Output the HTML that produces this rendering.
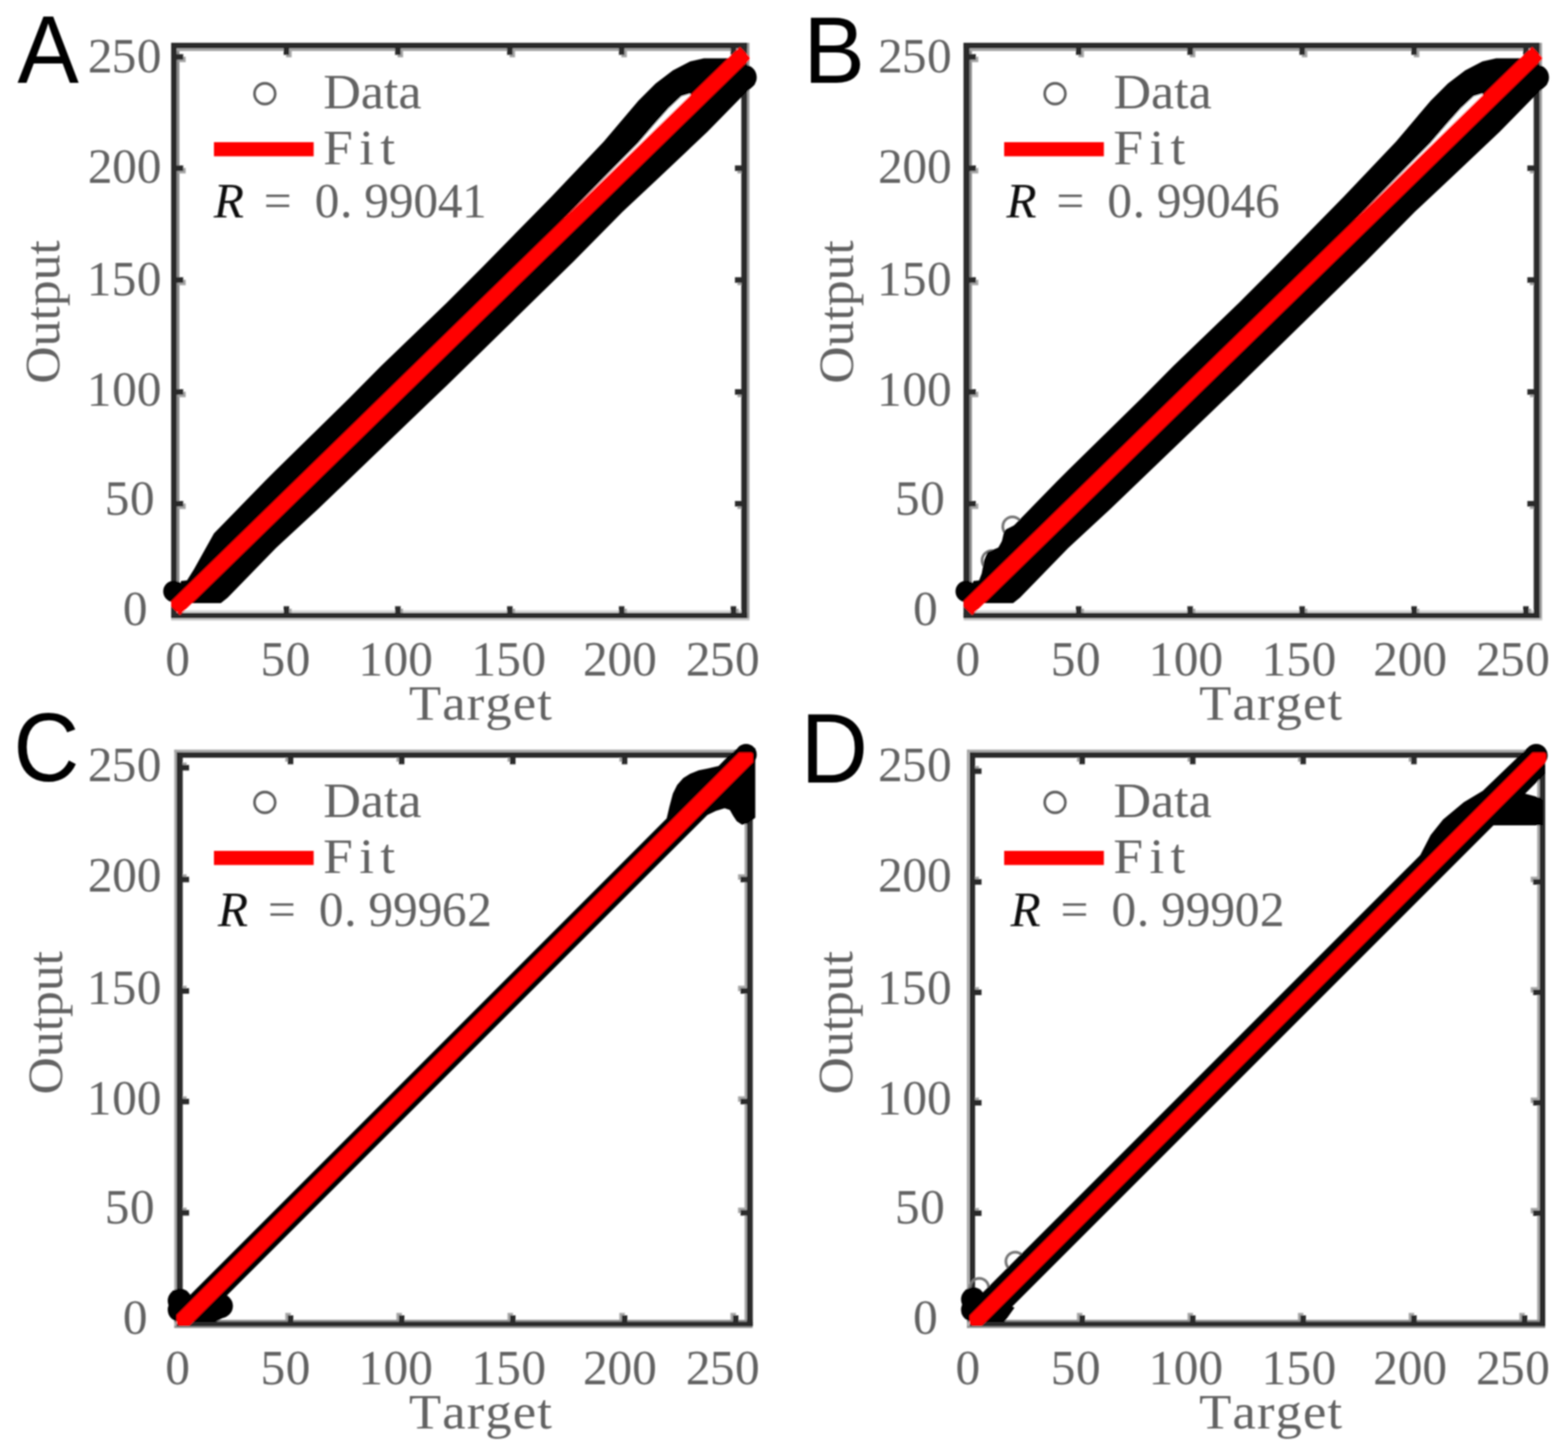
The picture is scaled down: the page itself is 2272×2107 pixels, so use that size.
<!DOCTYPE html>
<html lang="en">
<head>
<meta charset="utf-8">
<title>Regression plots: Output vs Target</title>
<style>
html, body { margin: 0; padding: 0; background: #ffffff; }
body { width: 2272px; height: 2107px; overflow: hidden; }
svg { display: block; }
text { white-space: pre; }
.s { font-family: "Liberation Serif", serif; font-size: 71.5px; fill: #626262; font-kerning: none; }
.i { font-style: italic; fill: #111; }
.p { font-family: "Liberation Sans", sans-serif; font-size: 140px; fill: #000; }
</style>
</head>
<body>
<svg width="2272" height="2107" viewBox="0 0 2272 2107">
<defs><filter id="soft" x="0" y="0" width="2272" height="2107" filterUnits="userSpaceOnUse"><feGaussianBlur stdDeviation="1.3"/></filter></defs>
<rect width="2272" height="2107" fill="#ffffff"/>
<g filter="url(#soft)">
<g id="panel-A">
<rect x="256" y="62" width="4" height="834" fill="#8c8c8c"/>
<rect x="248" y="70" width="834" height="4" fill="#a4a4a4"/>
<rect x="1082.4" y="62" width="3.6" height="837" fill="#9c9c9c"/>
<rect x="248" y="884.5" width="834" height="3.5" fill="#d4d4d4"/>
<rect x="248" y="895.8" width="838" height="3.4" fill="#c8c8c8"/>
<rect x="248" y="62" width="8" height="833.8" fill="#2b2b2b"/>
<rect x="1074.4" y="62" width="8.0" height="833.8" fill="#2b2b2b"/>
<rect x="248" y="62" width="834.4000000000001" height="8" fill="#2b2b2b"/>
<rect x="248" y="888" width="834.4000000000001" height="7.7999999999999545" fill="#2b2b2b"/>
<rect x="414.60" y="882.10" width="8.00" height="10.50" fill="#a6a6a6"/>
<rect x="414.60" y="72.60" width="8.00" height="10.50" fill="#a6a6a6"/>
<rect x="576.10" y="882.10" width="8.00" height="10.50" fill="#a6a6a6"/>
<rect x="576.10" y="72.60" width="8.00" height="10.50" fill="#a6a6a6"/>
<rect x="738.35" y="882.10" width="8.00" height="10.50" fill="#a6a6a6"/>
<rect x="738.35" y="72.60" width="8.00" height="10.50" fill="#a6a6a6"/>
<rect x="900.35" y="882.10" width="8.00" height="10.50" fill="#a6a6a6"/>
<rect x="900.35" y="72.60" width="8.00" height="10.50" fill="#a6a6a6"/>
<rect x="1062.35" y="882.10" width="8.00" height="10.50" fill="#a6a6a6"/>
<rect x="1062.35" y="72.60" width="8.00" height="10.50" fill="#a6a6a6"/>
<rect x="258.60" y="729.60" width="10.50" height="8.00" fill="#a6a6a6"/>
<rect x="1068.50" y="729.60" width="10.50" height="8.00" fill="#a6a6a6"/>
<rect x="258.60" y="567.60" width="10.50" height="8.00" fill="#a6a6a6"/>
<rect x="1068.50" y="567.60" width="10.50" height="8.00" fill="#a6a6a6"/>
<rect x="258.60" y="405.35" width="10.50" height="8.00" fill="#a6a6a6"/>
<rect x="1068.50" y="405.35" width="10.50" height="8.00" fill="#a6a6a6"/>
<rect x="258.60" y="243.35" width="10.50" height="8.00" fill="#a6a6a6"/>
<rect x="1068.50" y="243.35" width="10.50" height="8.00" fill="#a6a6a6"/>
<rect x="258.60" y="82.10" width="10.50" height="8.00" fill="#a6a6a6"/>
<rect x="1068.50" y="82.10" width="10.50" height="8.00" fill="#a6a6a6"/>
<rect x="411.00" y="878.50" width="8.00" height="10.50" fill="#2b2b2b"/>
<rect x="411.00" y="69.00" width="8.00" height="10.50" fill="#2b2b2b"/>
<rect x="572.50" y="878.50" width="8.00" height="10.50" fill="#2b2b2b"/>
<rect x="572.50" y="69.00" width="8.00" height="10.50" fill="#2b2b2b"/>
<rect x="734.75" y="878.50" width="8.00" height="10.50" fill="#2b2b2b"/>
<rect x="734.75" y="69.00" width="8.00" height="10.50" fill="#2b2b2b"/>
<rect x="896.75" y="878.50" width="8.00" height="10.50" fill="#2b2b2b"/>
<rect x="896.75" y="69.00" width="8.00" height="10.50" fill="#2b2b2b"/>
<rect x="1058.75" y="878.50" width="8.00" height="10.50" fill="#2b2b2b"/>
<rect x="1058.75" y="69.00" width="8.00" height="10.50" fill="#2b2b2b"/>
<rect x="255.00" y="726.00" width="10.50" height="8.00" fill="#2b2b2b"/>
<rect x="1064.90" y="726.00" width="10.50" height="8.00" fill="#2b2b2b"/>
<rect x="255.00" y="564.00" width="10.50" height="8.00" fill="#2b2b2b"/>
<rect x="1064.90" y="564.00" width="10.50" height="8.00" fill="#2b2b2b"/>
<rect x="255.00" y="401.75" width="10.50" height="8.00" fill="#2b2b2b"/>
<rect x="1064.90" y="401.75" width="10.50" height="8.00" fill="#2b2b2b"/>
<rect x="255.00" y="239.75" width="10.50" height="8.00" fill="#2b2b2b"/>
<rect x="1064.90" y="239.75" width="10.50" height="8.00" fill="#2b2b2b"/>
<rect x="255.00" y="78.50" width="10.50" height="8.00" fill="#2b2b2b"/>
<rect x="1064.90" y="78.50" width="10.50" height="8.00" fill="#2b2b2b"/>
<rect x="248" y="62" width="8" height="833.8" fill="#2b2b2b"/>
<rect x="1074.4" y="62" width="8.0" height="833.8" fill="#2b2b2b"/>
<rect x="248" y="62" width="834.4000000000001" height="8" fill="#2b2b2b"/>
<rect x="248" y="888" width="834.4000000000001" height="7.7999999999999545" fill="#2b2b2b"/>
<g class="pts"><polygon fill="#000" points="262.0,842.0 271.0,841.0 281.0,825.0 310.0,773.0 384.0,697.0 400.0,681.0 506.0,577.0 552.0,530.5 646.0,440.0 700.0,386.0 800.0,284.0 875.0,205.0 925.0,146.0 950.0,121.0 975.0,102.0 1000.0,89.0 1020.0,84.5 1062.0,84.5 1094.0,122.0 1072.5,142.5 1025.0,191.0 950.0,262.0 902.0,307.0 831.0,379.0 646.0,560.0 625.0,580.0 461.0,737.5 400.0,794.0 330.0,866.0 320.0,874.0 262.0,874.0"/><circle cx="252" cy="857" r="15.5" fill="#000"/><circle cx="1078" cy="112" r="18.5" fill="#000"/><polygon fill="#fff" points="812.0,322.0 925.0,207.0 950.0,178.0 968.8,157.0 987.5,139.5 1000.0,135.8 1005.0,150.0 812.0,338.0"/></g>
<clipPath id="clipA"><rect x="248" y="66.5" width="838" height="824.5"/></clipPath>
<g clip-path="url(#clipA)"><line x1="252.5" y1="883.0" x2="1080" y2="76.2" stroke="#ff0000" stroke-width="23"/></g>
<text class="s" transform="translate(178.00,906.00)" x="0.00" y="0">0</text>
<text class="s" transform="translate(152.50,746.00)" x="-0.68 35.75" y="0">50</text>
<text class="s" transform="translate(126.75,588.00)" x="-0.99 35.75 71.50" y="0">100</text>
<text class="s" transform="translate(126.75,427.50)" x="-0.99 35.07 71.50" y="0">150</text>
<text class="s" transform="translate(126.75,265.00)" x="0.40 35.75 71.50" y="0">200</text>
<text class="s" transform="translate(126.75,105.00)" x="0.40 35.07 71.50" y="0">250</text>
<text class="s" transform="translate(239.62,978.50)" x="0.00" y="0">0</text>
<text class="s" transform="translate(378.25,978.50)" x="-0.68 35.75" y="0">50</text>
<text class="s" transform="translate(520.12,978.50)" x="-0.99 35.75 71.50" y="0">100</text>
<text class="s" transform="translate(683.88,978.50)" x="-0.99 35.07 71.50" y="0">150</text>
<text class="s" transform="translate(844.38,978.50)" x="0.40 35.75 71.50" y="0">200</text>
<text class="s" transform="translate(993.38,978.50)" x="0.40 35.07 71.50" y="0">250</text>
<text class="s" transform="translate(592.40,1043.00) scale(1.068,1)" style="letter-spacing:1.5px">Target</text>
<g transform="translate(86,556) rotate(-90)"><text class="s" transform="translate(0.00,0.00) scale(1.047,1)">Output</text></g>
<circle cx="383.75" cy="135.75" r="15" fill="none" stroke="#5e5e5e" stroke-width="3.8"/>
<rect x="310" y="206" width="144.5" height="20.5" fill="#ff0000"/>
<text class="s" transform="translate(468.40,156.50) scale(1.055,1)">Data</text>
<text class="s" transform="translate(468.30,238.00) scale(1.08,1)" style="letter-spacing:8.5px">Fit</text>
<text class="s" transform="translate(313.00,315.00)" x="-3.17 53.62 69.18 125.12 143.00 179.69 214.81 250.56 286.00 321.61 356.51" y="0"><tspan class="i">R</tspan> = 0.99041</text>
<text class="p" x="25.2" y="119.5" style="font-size:138.4px" textLength="89.0" lengthAdjust="spacingAndGlyphs">A</text>
</g>
<g id="panel-B">
<rect x="1404.3" y="62" width="4" height="834" fill="#8c8c8c"/>
<rect x="1396.3" y="70" width="834" height="4" fill="#a4a4a4"/>
<rect x="2230.7" y="62" width="3.6" height="837" fill="#9c9c9c"/>
<rect x="1396.3" y="884.5" width="834" height="3.5" fill="#d4d4d4"/>
<rect x="1396.3" y="895.8" width="838" height="3.4" fill="#c8c8c8"/>
<rect x="1396.3" y="62" width="8.200000000000045" height="833.8" fill="#2b2b2b"/>
<rect x="2222.6" y="62" width="8.099999999999909" height="833.8" fill="#2b2b2b"/>
<rect x="1396.3" y="62" width="834.3999999999999" height="8" fill="#2b2b2b"/>
<rect x="1396.3" y="888" width="834.3999999999999" height="7.7999999999999545" fill="#2b2b2b"/>
<rect x="1562.60" y="882.10" width="8.00" height="10.50" fill="#a6a6a6"/>
<rect x="1562.60" y="72.60" width="8.00" height="10.50" fill="#a6a6a6"/>
<rect x="1724.10" y="882.10" width="8.00" height="10.50" fill="#a6a6a6"/>
<rect x="1724.10" y="72.60" width="8.00" height="10.50" fill="#a6a6a6"/>
<rect x="1886.35" y="882.10" width="8.00" height="10.50" fill="#a6a6a6"/>
<rect x="1886.35" y="72.60" width="8.00" height="10.50" fill="#a6a6a6"/>
<rect x="2048.60" y="882.10" width="8.00" height="10.50" fill="#a6a6a6"/>
<rect x="2048.60" y="72.60" width="8.00" height="10.50" fill="#a6a6a6"/>
<rect x="2210.60" y="882.10" width="8.00" height="10.50" fill="#a6a6a6"/>
<rect x="2210.60" y="72.60" width="8.00" height="10.50" fill="#a6a6a6"/>
<rect x="1407.10" y="729.60" width="10.50" height="8.00" fill="#a6a6a6"/>
<rect x="2216.70" y="729.60" width="10.50" height="8.00" fill="#a6a6a6"/>
<rect x="1407.10" y="567.60" width="10.50" height="8.00" fill="#a6a6a6"/>
<rect x="2216.70" y="567.60" width="10.50" height="8.00" fill="#a6a6a6"/>
<rect x="1407.10" y="405.35" width="10.50" height="8.00" fill="#a6a6a6"/>
<rect x="2216.70" y="405.35" width="10.50" height="8.00" fill="#a6a6a6"/>
<rect x="1407.10" y="243.35" width="10.50" height="8.00" fill="#a6a6a6"/>
<rect x="2216.70" y="243.35" width="10.50" height="8.00" fill="#a6a6a6"/>
<rect x="1407.10" y="82.10" width="10.50" height="8.00" fill="#a6a6a6"/>
<rect x="2216.70" y="82.10" width="10.50" height="8.00" fill="#a6a6a6"/>
<rect x="1559.00" y="878.50" width="8.00" height="10.50" fill="#2b2b2b"/>
<rect x="1559.00" y="69.00" width="8.00" height="10.50" fill="#2b2b2b"/>
<rect x="1720.50" y="878.50" width="8.00" height="10.50" fill="#2b2b2b"/>
<rect x="1720.50" y="69.00" width="8.00" height="10.50" fill="#2b2b2b"/>
<rect x="1882.75" y="878.50" width="8.00" height="10.50" fill="#2b2b2b"/>
<rect x="1882.75" y="69.00" width="8.00" height="10.50" fill="#2b2b2b"/>
<rect x="2045.00" y="878.50" width="8.00" height="10.50" fill="#2b2b2b"/>
<rect x="2045.00" y="69.00" width="8.00" height="10.50" fill="#2b2b2b"/>
<rect x="2207.00" y="878.50" width="8.00" height="10.50" fill="#2b2b2b"/>
<rect x="2207.00" y="69.00" width="8.00" height="10.50" fill="#2b2b2b"/>
<rect x="1403.50" y="726.00" width="10.50" height="8.00" fill="#2b2b2b"/>
<rect x="2213.10" y="726.00" width="10.50" height="8.00" fill="#2b2b2b"/>
<rect x="1403.50" y="564.00" width="10.50" height="8.00" fill="#2b2b2b"/>
<rect x="2213.10" y="564.00" width="10.50" height="8.00" fill="#2b2b2b"/>
<rect x="1403.50" y="401.75" width="10.50" height="8.00" fill="#2b2b2b"/>
<rect x="2213.10" y="401.75" width="10.50" height="8.00" fill="#2b2b2b"/>
<rect x="1403.50" y="239.75" width="10.50" height="8.00" fill="#2b2b2b"/>
<rect x="2213.10" y="239.75" width="10.50" height="8.00" fill="#2b2b2b"/>
<rect x="1403.50" y="78.50" width="10.50" height="8.00" fill="#2b2b2b"/>
<rect x="2213.10" y="78.50" width="10.50" height="8.00" fill="#2b2b2b"/>
<rect x="1396.3" y="62" width="8.200000000000045" height="833.8" fill="#2b2b2b"/>
<rect x="2222.6" y="62" width="8.099999999999909" height="833.8" fill="#2b2b2b"/>
<rect x="1396.3" y="62" width="834.3999999999999" height="8" fill="#2b2b2b"/>
<rect x="1396.3" y="888" width="834.3999999999999" height="7.7999999999999545" fill="#2b2b2b"/>
<g class="pts"><circle cx="1467" cy="763" r="14" fill="none" stroke="#777" stroke-width="4"/><circle cx="1437" cy="812" r="14" fill="none" stroke="#777" stroke-width="4"/><polygon fill="#000" points="1410.0,842.0 1419.0,841.0 1429.0,825.0 1458.0,773.0 1532.0,697.0 1548.0,681.0 1654.0,577.0 1700.0,530.5 1794.0,440.0 1848.0,386.0 1948.0,284.0 2023.0,205.0 2073.0,146.0 2098.0,121.0 2123.0,102.0 2148.0,89.0 2168.0,84.5 2210.0,84.5 2242.0,122.0 2220.5,142.5 2173.0,191.0 2098.0,262.0 2050.0,307.0 1979.0,379.0 1794.0,560.0 1773.0,580.0 1609.0,737.5 1548.0,794.0 1478.0,866.0 1468.0,874.0 1410.0,874.0"/><circle cx="1400" cy="857" r="15.5" fill="#000"/><circle cx="2226" cy="112" r="18.5" fill="#000"/><polygon fill="#fff" points="1960.0,322.0 2073.0,207.0 2098.0,178.0 2116.8,157.0 2135.5,139.5 2148.0,135.8 2153.0,150.0 1960.0,338.0"/><polygon fill="#000" points="1417.5,844.0 1422.5,831.0 1426.0,812.0 1431.0,800.0 1450.0,792.0 1455.0,770.0 1458.0,767.0 1480.0,756.0 1533.0,700.0 1560.0,720.0 1440.0,850.0"/></g>
<clipPath id="clipB"><rect x="1396.3" y="66.5" width="838.0000000000002" height="824.5"/></clipPath>
<g clip-path="url(#clipB)"><line x1="1400.5" y1="883.0" x2="2228" y2="76.2" stroke="#ff0000" stroke-width="23"/></g>
<text class="s" transform="translate(1323.00,906.00)" x="0.00" y="0">0</text>
<text class="s" transform="translate(1297.50,746.00)" x="-0.68 35.75" y="0">50</text>
<text class="s" transform="translate(1271.75,588.00)" x="-0.99 35.75 71.50" y="0">100</text>
<text class="s" transform="translate(1271.75,427.50)" x="-0.99 35.07 71.50" y="0">150</text>
<text class="s" transform="translate(1271.75,265.00)" x="0.40 35.75 71.50" y="0">200</text>
<text class="s" transform="translate(1271.75,105.00)" x="0.40 35.07 71.50" y="0">250</text>
<text class="s" transform="translate(1384.62,978.50)" x="0.00" y="0">0</text>
<text class="s" transform="translate(1523.25,978.50)" x="-0.68 35.75" y="0">50</text>
<text class="s" transform="translate(1665.12,978.50)" x="-0.99 35.75 71.50" y="0">100</text>
<text class="s" transform="translate(1828.88,978.50)" x="-0.99 35.07 71.50" y="0">150</text>
<text class="s" transform="translate(1989.38,978.50)" x="0.40 35.75 71.50" y="0">200</text>
<text class="s" transform="translate(2138.38,978.50)" x="0.40 35.07 71.50" y="0">250</text>
<text class="s" transform="translate(1737.40,1043.00) scale(1.068,1)" style="letter-spacing:1.5px">Target</text>
<g transform="translate(1236,556) rotate(-90)"><text class="s" transform="translate(0.00,0.00) scale(1.047,1)">Output</text></g>
<circle cx="1528.75" cy="135.75" r="15" fill="none" stroke="#5e5e5e" stroke-width="3.8"/>
<rect x="1455" y="206" width="144.5" height="20.5" fill="#ff0000"/>
<text class="s" transform="translate(1613.40,156.50) scale(1.055,1)">Data</text>
<text class="s" transform="translate(1613.30,238.00) scale(1.08,1)" style="letter-spacing:8.5px">Fit</text>
<text class="s" transform="translate(1461.50,315.00)" x="-3.17 53.62 69.18 125.12 143.00 179.69 214.81 250.56 286.00 321.61 357.03" y="0"><tspan class="i">R</tspan> = 0.99046</text>
<text class="p" x="1164.0" y="119.9" style="font-size:137.9px" textLength="89.3" lengthAdjust="spacingAndGlyphs">B</text>
</g>
<g id="panel-C">
<rect x="252.5" y="1086.5" width="3.5" height="837" fill="#a8a8a8"/>
<rect x="252.5" y="1086.3" width="838" height="4" fill="#a8a8a8"/>
<rect x="1078.8" y="1090" width="3.7" height="830" fill="#a8a8a8"/>
<rect x="252.5" y="1912.6" width="838" height="3.4" fill="#8c8c8c"/>
<rect x="252.5" y="1921.6" width="838" height="2.8" fill="#8c8c8c"/>
<rect x="256" y="1090.3" width="8.5" height="831.5" fill="#2b2b2b"/>
<rect x="1082.5" y="1090.3" width="8.0" height="831.5" fill="#2b2b2b"/>
<rect x="256" y="1090.3" width="834.5" height="7.7000000000000455" fill="#2b2b2b"/>
<rect x="256" y="1915.6" width="834.5" height="6.2000000000000455" fill="#2b2b2b"/>
<rect x="413.40" y="1902.50" width="8.00" height="10.50" fill="#a6a6a6"/>
<rect x="413.40" y="1093.40" width="8.00" height="10.50" fill="#a6a6a6"/>
<rect x="574.40" y="1902.50" width="8.00" height="10.50" fill="#a6a6a6"/>
<rect x="574.40" y="1093.40" width="8.00" height="10.50" fill="#a6a6a6"/>
<rect x="735.40" y="1902.50" width="8.00" height="10.50" fill="#a6a6a6"/>
<rect x="735.40" y="1093.40" width="8.00" height="10.50" fill="#a6a6a6"/>
<rect x="897.40" y="1902.50" width="8.00" height="10.50" fill="#a6a6a6"/>
<rect x="897.40" y="1093.40" width="8.00" height="10.50" fill="#a6a6a6"/>
<rect x="1058.40" y="1902.50" width="8.00" height="10.50" fill="#a6a6a6"/>
<rect x="1058.40" y="1093.40" width="8.00" height="10.50" fill="#a6a6a6"/>
<rect x="259.90" y="1749.90" width="10.50" height="8.00" fill="#a6a6a6"/>
<rect x="1069.40" y="1749.90" width="10.50" height="8.00" fill="#a6a6a6"/>
<rect x="259.90" y="1588.65" width="10.50" height="8.00" fill="#a6a6a6"/>
<rect x="1069.40" y="1588.65" width="10.50" height="8.00" fill="#a6a6a6"/>
<rect x="259.90" y="1428.40" width="10.50" height="8.00" fill="#a6a6a6"/>
<rect x="1069.40" y="1428.40" width="10.50" height="8.00" fill="#a6a6a6"/>
<rect x="259.90" y="1266.90" width="10.50" height="8.00" fill="#a6a6a6"/>
<rect x="1069.40" y="1266.90" width="10.50" height="8.00" fill="#a6a6a6"/>
<rect x="259.90" y="1104.90" width="10.50" height="8.00" fill="#a6a6a6"/>
<rect x="1069.40" y="1104.90" width="10.50" height="8.00" fill="#a6a6a6"/>
<rect x="417.00" y="1906.10" width="8.00" height="10.50" fill="#2b2b2b"/>
<rect x="417.00" y="1097.00" width="8.00" height="10.50" fill="#2b2b2b"/>
<rect x="578.00" y="1906.10" width="8.00" height="10.50" fill="#2b2b2b"/>
<rect x="578.00" y="1097.00" width="8.00" height="10.50" fill="#2b2b2b"/>
<rect x="739.00" y="1906.10" width="8.00" height="10.50" fill="#2b2b2b"/>
<rect x="739.00" y="1097.00" width="8.00" height="10.50" fill="#2b2b2b"/>
<rect x="901.00" y="1906.10" width="8.00" height="10.50" fill="#2b2b2b"/>
<rect x="901.00" y="1097.00" width="8.00" height="10.50" fill="#2b2b2b"/>
<rect x="1062.00" y="1906.10" width="8.00" height="10.50" fill="#2b2b2b"/>
<rect x="1062.00" y="1097.00" width="8.00" height="10.50" fill="#2b2b2b"/>
<rect x="263.50" y="1753.50" width="10.50" height="8.00" fill="#2b2b2b"/>
<rect x="1073.00" y="1753.50" width="10.50" height="8.00" fill="#2b2b2b"/>
<rect x="263.50" y="1592.25" width="10.50" height="8.00" fill="#2b2b2b"/>
<rect x="1073.00" y="1592.25" width="10.50" height="8.00" fill="#2b2b2b"/>
<rect x="263.50" y="1432.00" width="10.50" height="8.00" fill="#2b2b2b"/>
<rect x="1073.00" y="1432.00" width="10.50" height="8.00" fill="#2b2b2b"/>
<rect x="263.50" y="1270.50" width="10.50" height="8.00" fill="#2b2b2b"/>
<rect x="1073.00" y="1270.50" width="10.50" height="8.00" fill="#2b2b2b"/>
<rect x="263.50" y="1108.50" width="10.50" height="8.00" fill="#2b2b2b"/>
<rect x="1073.00" y="1108.50" width="10.50" height="8.00" fill="#2b2b2b"/>
<rect x="256" y="1090.3" width="8.5" height="831.5" fill="#2b2b2b"/>
<rect x="1082.5" y="1090.3" width="8.0" height="831.5" fill="#2b2b2b"/>
<rect x="256" y="1090.3" width="834.5" height="7.7000000000000455" fill="#2b2b2b"/>
<rect x="256" y="1915.6" width="834.5" height="6.2000000000000455" fill="#2b2b2b"/>
<g class="pts"><polygon fill="#000" points="246.0,1906.0 966.0,1186.0 970.0,1168.8 975.0,1150.0 981.2,1137.5 990.0,1127.5 1000.0,1121.2 1012.5,1116.2 1025.0,1113.8 1041.2,1110.0 1050.0,1101.0 1066.0,1086.0 1094.4,1084.0 1094.4,1185.0 1082.5,1193.8 1075.0,1195.0 1067.5,1190.0 1062.5,1182.5 1057.5,1173.8 1050.0,1171.2 1037.5,1175.0 1025.0,1181.0 290.0,1916.0"/><circle cx="260.5" cy="1885" r="17.5" fill="#000"/><circle cx="260.5" cy="1898" r="17.5" fill="#000"/><circle cx="320" cy="1892.5" r="17.5" fill="#000"/><polygon fill="#000" points="280.0,1916.0 312.0,1916.0 326.0,1908.0 300.0,1888.0"/><circle cx="1081" cy="1093.5" r="15.5" fill="#000"/></g>
<clipPath id="clipC"><rect x="256" y="1090.5" width="835" height="830.5"/></clipPath>
<g clip-path="url(#clipC)"><line x1="258.5" y1="1920" x2="1088.5" y2="1090" stroke="#ff0000" stroke-width="24"/></g>
<text class="s" transform="translate(178.00,1933.00)" x="0.00" y="0">0</text>
<text class="s" transform="translate(152.50,1773.00)" x="-0.68 35.75" y="0">50</text>
<text class="s" transform="translate(126.75,1615.00)" x="-0.99 35.75 71.50" y="0">100</text>
<text class="s" transform="translate(126.75,1454.50)" x="-0.99 35.07 71.50" y="0">150</text>
<text class="s" transform="translate(126.75,1292.00)" x="0.40 35.75 71.50" y="0">200</text>
<text class="s" transform="translate(126.75,1132.00)" x="0.40 35.07 71.50" y="0">250</text>
<text class="s" transform="translate(239.62,2005.50)" x="0.00" y="0">0</text>
<text class="s" transform="translate(378.25,2005.50)" x="-0.68 35.75" y="0">50</text>
<text class="s" transform="translate(520.12,2005.50)" x="-0.99 35.75 71.50" y="0">100</text>
<text class="s" transform="translate(683.88,2005.50)" x="-0.99 35.07 71.50" y="0">150</text>
<text class="s" transform="translate(844.38,2005.50)" x="0.40 35.75 71.50" y="0">200</text>
<text class="s" transform="translate(993.38,2005.50)" x="0.40 35.07 71.50" y="0">250</text>
<text class="s" transform="translate(592.40,2070.00) scale(1.068,1)" style="letter-spacing:1.5px">Target</text>
<g transform="translate(89.5,1586) rotate(-90)"><text class="s" transform="translate(0.00,0.00) scale(1.047,1)">Output</text></g>
<circle cx="383.75" cy="1162.75" r="15" fill="none" stroke="#5e5e5e" stroke-width="3.8"/>
<rect x="310" y="1233" width="144.5" height="20.5" fill="#ff0000"/>
<text class="s" transform="translate(468.40,1183.50) scale(1.055,1)">Data</text>
<text class="s" transform="translate(468.30,1265.00) scale(1.08,1)" style="letter-spacing:8.5px">Fit</text>
<text class="s" transform="translate(319.00,1342.00)" x="-3.17 53.62 69.18 125.12 143.00 179.69 214.81 250.56 286.31 321.28 357.90" y="0"><tspan class="i">R</tspan> = 0.99962</text>
<text class="p" x="19.5" y="1132.4" style="font-size:141.4px" textLength="95.4" lengthAdjust="spacingAndGlyphs">C</text>
</g>
<g id="panel-D">
<rect x="1401.0" y="1086.5" width="3.5" height="837" fill="#a8a8a8"/>
<rect x="1401.0" y="1086.3" width="838" height="4" fill="#a8a8a8"/>
<rect x="2227.3" y="1090" width="3.7" height="830" fill="#a8a8a8"/>
<rect x="1401.0" y="1912.6" width="838" height="3.4" fill="#8c8c8c"/>
<rect x="1401.0" y="1921.6" width="838" height="2.8" fill="#8c8c8c"/>
<rect x="1405" y="1090.3" width="7.7000000000000455" height="831.5" fill="#2b2b2b"/>
<rect x="2231" y="1090.3" width="8" height="831.5" fill="#2b2b2b"/>
<rect x="1405" y="1090.3" width="834" height="7.7000000000000455" fill="#2b2b2b"/>
<rect x="1405" y="1915.6" width="834" height="6.2000000000000455" fill="#2b2b2b"/>
<rect x="1560.40" y="1902.50" width="8.00" height="10.50" fill="#a6a6a6"/>
<rect x="1560.40" y="1093.40" width="8.00" height="10.50" fill="#a6a6a6"/>
<rect x="1720.70" y="1902.50" width="8.00" height="10.50" fill="#a6a6a6"/>
<rect x="1720.70" y="1093.40" width="8.00" height="10.50" fill="#a6a6a6"/>
<rect x="1880.65" y="1902.50" width="8.00" height="10.50" fill="#a6a6a6"/>
<rect x="1880.65" y="1093.40" width="8.00" height="10.50" fill="#a6a6a6"/>
<rect x="2041.15" y="1902.50" width="8.00" height="10.50" fill="#a6a6a6"/>
<rect x="2041.15" y="1093.40" width="8.00" height="10.50" fill="#a6a6a6"/>
<rect x="2201.40" y="1902.50" width="8.00" height="10.50" fill="#a6a6a6"/>
<rect x="2201.40" y="1093.40" width="8.00" height="10.50" fill="#a6a6a6"/>
<rect x="1408.10" y="1750.40" width="10.50" height="8.00" fill="#a6a6a6"/>
<rect x="2217.90" y="1750.40" width="10.50" height="8.00" fill="#a6a6a6"/>
<rect x="1408.10" y="1590.40" width="10.50" height="8.00" fill="#a6a6a6"/>
<rect x="2217.90" y="1590.40" width="10.50" height="8.00" fill="#a6a6a6"/>
<rect x="1408.10" y="1430.40" width="10.50" height="8.00" fill="#a6a6a6"/>
<rect x="2217.90" y="1430.40" width="10.50" height="8.00" fill="#a6a6a6"/>
<rect x="1408.10" y="1270.40" width="10.50" height="8.00" fill="#a6a6a6"/>
<rect x="2217.90" y="1270.40" width="10.50" height="8.00" fill="#a6a6a6"/>
<rect x="1408.10" y="1109.90" width="10.50" height="8.00" fill="#a6a6a6"/>
<rect x="2217.90" y="1109.90" width="10.50" height="8.00" fill="#a6a6a6"/>
<rect x="1564.00" y="1906.10" width="8.00" height="10.50" fill="#2b2b2b"/>
<rect x="1564.00" y="1097.00" width="8.00" height="10.50" fill="#2b2b2b"/>
<rect x="1724.30" y="1906.10" width="8.00" height="10.50" fill="#2b2b2b"/>
<rect x="1724.30" y="1097.00" width="8.00" height="10.50" fill="#2b2b2b"/>
<rect x="1884.25" y="1906.10" width="8.00" height="10.50" fill="#2b2b2b"/>
<rect x="1884.25" y="1097.00" width="8.00" height="10.50" fill="#2b2b2b"/>
<rect x="2044.75" y="1906.10" width="8.00" height="10.50" fill="#2b2b2b"/>
<rect x="2044.75" y="1097.00" width="8.00" height="10.50" fill="#2b2b2b"/>
<rect x="2205.00" y="1906.10" width="8.00" height="10.50" fill="#2b2b2b"/>
<rect x="2205.00" y="1097.00" width="8.00" height="10.50" fill="#2b2b2b"/>
<rect x="1411.70" y="1754.00" width="10.50" height="8.00" fill="#2b2b2b"/>
<rect x="2221.50" y="1754.00" width="10.50" height="8.00" fill="#2b2b2b"/>
<rect x="1411.70" y="1594.00" width="10.50" height="8.00" fill="#2b2b2b"/>
<rect x="2221.50" y="1594.00" width="10.50" height="8.00" fill="#2b2b2b"/>
<rect x="1411.70" y="1434.00" width="10.50" height="8.00" fill="#2b2b2b"/>
<rect x="2221.50" y="1434.00" width="10.50" height="8.00" fill="#2b2b2b"/>
<rect x="1411.70" y="1274.00" width="10.50" height="8.00" fill="#2b2b2b"/>
<rect x="2221.50" y="1274.00" width="10.50" height="8.00" fill="#2b2b2b"/>
<rect x="1411.70" y="1113.50" width="10.50" height="8.00" fill="#2b2b2b"/>
<rect x="2221.50" y="1113.50" width="10.50" height="8.00" fill="#2b2b2b"/>
<rect x="1405" y="1090.3" width="7.7000000000000455" height="831.5" fill="#2b2b2b"/>
<rect x="2231" y="1090.3" width="8" height="831.5" fill="#2b2b2b"/>
<rect x="1405" y="1090.3" width="834" height="7.7000000000000455" fill="#2b2b2b"/>
<rect x="1405" y="1915.6" width="834" height="6.2000000000000455" fill="#2b2b2b"/>
<g class="pts"><circle cx="1419" cy="1866" r="13.5" fill="none" stroke="#777" stroke-width="4"/><circle cx="1471" cy="1828" r="13.5" fill="none" stroke="#777" stroke-width="4"/><polygon fill="#000" points="1393.0,1904.0 2058.0,1239.0 2073.0,1210.0 2091.0,1187.5 2121.0,1162.5 2148.5,1146.0 2213.0,1084.0 2239.0,1121.0 2205.0,1155.0 2202.0,1148.0 2232.0,1156.0 2236.0,1160.0 2236.0,1196.0 2164.0,1196.0 1446.0,1914.0"/><circle cx="1410" cy="1883" r="17.5" fill="#000"/><circle cx="1410" cy="1898" r="17.5" fill="#000"/><polygon fill="#000" points="1425.0,1916.0 1455.0,1916.0 1470.0,1895.0 1440.0,1880.0"/><polygon fill="#000" points="2211.0,1120.0 2232.0,1100.0 2239.0,1110.0 2239.0,1121.0 2225.0,1135.0"/><circle cx="2226" cy="1094.5" r="16.5" fill="#000"/></g>
<clipPath id="clipD"><rect x="1405" y="1090.5" width="835" height="830.5"/></clipPath>
<g clip-path="url(#clipD)"><line x1="1407.5" y1="1920" x2="2237.5" y2="1090" stroke="#ff0000" stroke-width="23"/></g>
<text class="s" transform="translate(1323.00,1933.00)" x="0.00" y="0">0</text>
<text class="s" transform="translate(1297.50,1773.00)" x="-0.68 35.75" y="0">50</text>
<text class="s" transform="translate(1271.75,1615.00)" x="-0.99 35.75 71.50" y="0">100</text>
<text class="s" transform="translate(1271.75,1454.50)" x="-0.99 35.07 71.50" y="0">150</text>
<text class="s" transform="translate(1271.75,1292.00)" x="0.40 35.75 71.50" y="0">200</text>
<text class="s" transform="translate(1271.75,1132.00)" x="0.40 35.07 71.50" y="0">250</text>
<text class="s" transform="translate(1384.62,2005.50)" x="0.00" y="0">0</text>
<text class="s" transform="translate(1523.25,2005.50)" x="-0.68 35.75" y="0">50</text>
<text class="s" transform="translate(1665.12,2005.50)" x="-0.99 35.75 71.50" y="0">100</text>
<text class="s" transform="translate(1828.88,2005.50)" x="-0.99 35.07 71.50" y="0">150</text>
<text class="s" transform="translate(1989.38,2005.50)" x="0.40 35.75 71.50" y="0">200</text>
<text class="s" transform="translate(2138.38,2005.50)" x="0.40 35.07 71.50" y="0">250</text>
<text class="s" transform="translate(1737.40,2070.00) scale(1.068,1)" style="letter-spacing:1.5px">Target</text>
<g transform="translate(1234.5,1586) rotate(-90)"><text class="s" transform="translate(0.00,0.00) scale(1.047,1)">Output</text></g>
<circle cx="1528.75" cy="1162.75" r="15" fill="none" stroke="#5e5e5e" stroke-width="3.8"/>
<rect x="1455" y="1233" width="144.5" height="20.5" fill="#ff0000"/>
<text class="s" transform="translate(1613.40,1183.50) scale(1.055,1)">Data</text>
<text class="s" transform="translate(1613.30,1265.00) scale(1.08,1)" style="letter-spacing:8.5px">Fit</text>
<text class="s" transform="translate(1467.50,1342.00)" x="-3.17 53.62 69.18 125.12 143.00 179.69 214.81 250.56 286.31 321.75 357.90" y="0"><tspan class="i">R</tspan> = 0.99902</text>
<text class="p" x="1160.1" y="1133.8" style="font-size:143.6px" textLength="97.7" lengthAdjust="spacingAndGlyphs">D</text>
</g>
</g>
</svg>
</body>
</html>
